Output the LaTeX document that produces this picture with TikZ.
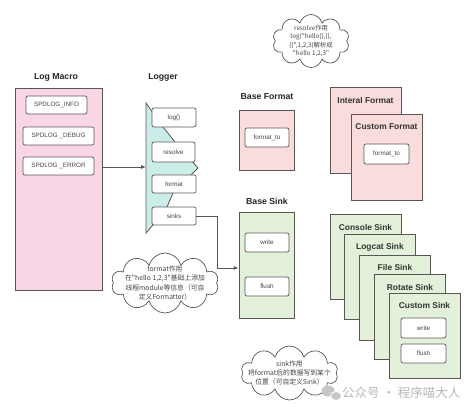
\documentclass[tikz,border=0pt]{standalone}
\usepackage{fontspec}
\setmainfont{Liberation Sans}
\newfontfamily\cjk{Noto Sans CJK SC}
\usetikzlibrary{shapes.symbols,arrows.meta}
\definecolor{lineg}{HTML}{5C5558}
\definecolor{txtg}{HTML}{444444}
\definecolor{macropink}{HTML}{F8D6E5}
\definecolor{fmtpink}{HTML}{F9DCDC}
\definecolor{sinkgreen}{HTML}{E3F1DA}
\definecolor{loggercyan}{HTML}{CBEDEA}
\tikzset{
  sz/.style 2 args={minimum width=#1pt, minimum height=#2pt},
  panel/.style={draw=lineg, line width=0.8pt, inner sep=0pt},
  inner/.style={draw=lineg, fill=white, rounded corners=2pt, line width=0.7pt,
    inner sep=0pt, text=txtg, font=\fontsize{6.3}{7}\selectfont},
  title/.style={font=\bfseries\fontsize{8.7}{10}\selectfont, text=black!85, inner sep=0pt},
  stitle/.style={font=\bfseries\fontsize{8.4}{10}\selectfont, text=black!80, inner sep=0pt},
  arrow/.style={draw=lineg, line width=0.8pt, -{Latex[length=5pt,width=4pt]}},
  cloudbox/.style={cloud, cloud puffs=10, cloud ignores aspect, draw=lineg, line width=0.7pt, fill=white,
    inner sep=-30pt, align=center, text=txtg},
}
\begin{document}
\begin{tikzpicture}[x=1pt,y=-1pt]
\useasboundingbox (0,0) rectangle (474,414);
\fill[white] (0,0) rectangle (474,414);

% Log Macro
\node[title] (tmacro) at (56,77) {Log Macro};
\node[panel, fill=macropink, sz={87}{202}] (macro) at (58.5,189) {};
\node[inner, sz={61}{18}] (info) at (56.5,105) {SPDLOG\_INFO};
\node[inner, sz={71}{18}] (debug) at (58.5,136) {SPDLOG \_DEBUG};
\node[inner, sz={71}{18}] (error) at (58.5,166) {SPDLOG \_ERROR};

% Logger
\node[title] (tlogger) at (163,77) {Logger};
\draw[draw=lineg, line width=0.8pt, fill=loggercyan]
  (146,103) -- (163,127) -- (175,142) -- (198,168) -- (173,193) -- (167,207)
  -- (152,226) -- (146,233) -- cycle;
\coordinate (spine) at (146,167);
\node[inner, sz={44}{19}] (log) at (174,117.5) {log()};
\node[inner, sz={43}{20}] (resolve) at (173.5,152) {resolve};
\node[inner, sz={44}{18}] (format) at (174,184) {format};
\node[inner, sz={44}{18}] (sinks) at (174,216) {sinks};
\draw[arrow] (macro.east |- spine) -- (spine);

% Base Format
\node[title] (tbfmt) at (267,97) {Base Format};
\node[panel, fill=fmtpink, sz={55}{60}] (bfmt) at (266.5,140) {};
\node[inner, sz={44}{19}] (fmtto) at (267,137.5) {format\_to};

% Interal / Custom Format
\node[panel, fill=fmtpink, sz={71}{86}] (ifmt) at (365.5,130) {};
\node[stitle] at (365.5,100) (tifmt) {Interal Format};
\node[panel, fill=fmtpink, sz={71}{86}] (cfmt) at (386.5,157) {};
\node[stitle] at (386.5,127) (tcfmt) {Custom Format};
\node[inner, sz={45}{20}] (fmtto2) at (386.5,154) {format\_to};

% Base Sink
\node[title] (tbsink) at (267,201) {Base Sink};
\node[panel, fill=sinkgreen, sz={55}{106}] (bsink) at (266.5,265) {};
\node[inner, sz={44}{19}] (bwrite) at (267,242.5) {write};
\node[inner, sz={44}{19}] (bflush) at (267,286.5) {flush};
\draw[arrow] (sinks.east) -- ++(21,0) |- ([yshift=-3pt]bsink.west);

% Sink stack
\node[panel, fill=sinkgreen, sz={71}{85}] (s1) at (365.5,256.5) {};
\node[stitle] (ts1) at (365.5,227) {Console Sink};
\node[panel, fill=sinkgreen, sz={71}{85}] (s2) at (380,276.5) {};
\node[stitle] (ts2) at (380,247) {Logcat Sink};
\node[panel, fill=sinkgreen, sz={71}{85}] (s3) at (395,297.5) {};
\node[stitle] (ts3) at (395,267.5) {File Sink};
\node[panel, fill=sinkgreen, sz={71}{85}] (s4) at (410,316.5) {};
\node[stitle] (ts4) at (410,287) {Rotate Sink};
\node[panel, fill=sinkgreen, sz={71}{85}] (s5) at (424.5,335.5) {};
\node[stitle] (ts5) at (424.5,305.5) {Custom Sink};
\node[inner, sz={45}{20}] (cwrite) at (423.5,328) {write};
\node[inner, sz={45}{19}] (cflush) at (423.5,353.5) {flush};

% Clouds
\node[cloudbox, sz={77}{53}, font=\cjk\fontsize{6.3}{8.6}\selectfont] (c1) at (311,41)
  {resolve作用\\log("hello\{\},\{\},\\\{\}",1,2,3)解析成\\"hello 1,2,3"};
\node[cloudbox, sz={107}{60}, font=\cjk\fontsize{6.8}{9.3}\selectfont] (c2) at (165,283)
  {format作用\\在"hello 1,2,3"基础上添加\\线程module等信息（可自\\定义Formatter）};
\node[cloudbox, sz={97}{54}, font=\cjk\fontsize{6.8}{9.3}\selectfont] (c3) at (289.5,373)
  {sink作用\\将format后的数据写到某个\\位置（可自定义Sink）};

% watermark
\fill[gray!45] (328,391) ellipse (6.5 and 5.5);
\filldraw[fill=gray!45, draw=white, line width=0.8pt] (336,396) ellipse (5.5 and 4.5);
\node[text=gray!55, font=\cjk\fontsize{12.5}{13}\selectfont, anchor=west, inner sep=0pt] (wm) at (342,393) {公众号 · 程序喵大人};
\end{tikzpicture}
\end{document}
